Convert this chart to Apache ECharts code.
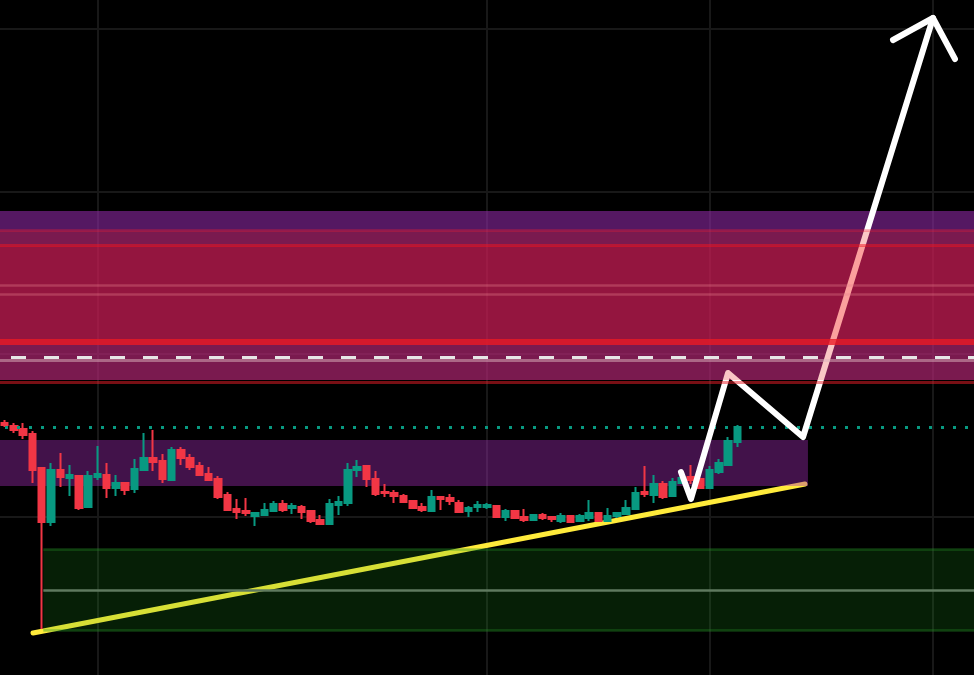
<!DOCTYPE html>
<html><head><meta charset="utf-8">
<script src="https://cdn.jsdelivr.net/npm/echarts@6/dist/echarts.min.js"></script>
<style>html,body{margin:0;padding:0;background:#000;}#c{width:974px;height:675px;}</style>
</head><body><div id="c"></div>
<script>
// 105 bar slots (80 traded bars + empty space to the right)
const categories = Array.from({length: 105}, (_, i) => 'B' + (i + 1));
// [open, close, low, high]
const candles = [
 [2.52,2.50,2.48,2.55],[2.49,2.45,2.42,2.52],[2.46,2.40,2.36,2.52],[2.41,2.05,1.92,2.44],
 [2.07,1.53,0.46,2.08],[1.53,2.05,1.49,2.12],[2.05,1.98,1.88,2.22],[1.97,2.00,1.79,2.10],
 [1.99,1.67,1.65,2.00],[1.68,1.99,1.68,2.04],[1.98,2.01,1.95,2.29],[2.00,1.87,1.77,2.12],
 [1.87,1.92,1.79,2.00],[1.92,1.85,1.80,1.92],[1.86,2.06,1.82,2.16],[2.05,2.17,2.05,2.42],
 [2.17,2.13,2.04,2.45],[2.14,1.96,1.92,2.21],[1.95,2.25,1.95,2.28],[2.25,2.17,2.10,2.28],
 [2.17,2.08,2.05,2.21],[2.09,2.00,2.00,2.13],[2.01,1.95,1.95,2.08],[1.96,1.78,1.76,1.99],
 [1.80,1.65,1.64,1.83],[1.66,1.63,1.56,1.76],[1.64,1.62,1.59,1.77],[1.59,1.62,1.49,1.62],
 [1.60,1.65,1.59,1.72],[1.64,1.71,1.63,1.74],[1.71,1.65,1.63,1.75],[1.67,1.69,1.61,1.72],
 [1.68,1.63,1.56,1.70],[1.64,1.54,1.52,1.64],[1.55,1.51,1.51,1.60],[1.51,1.71,1.51,1.76],
 [1.70,1.73,1.60,1.79],[1.72,2.05,1.69,2.12],[2.05,2.08,1.98,2.15],[2.09,1.96,1.88,2.09],
 [1.96,1.81,1.79,2.04],[1.83,1.82,1.78,1.91],[1.82,1.79,1.72,1.85],[1.79,1.73,1.72,1.81],
 [1.74,1.67,1.67,1.75],[1.68,1.65,1.63,1.72],[1.64,1.78,1.64,1.85],[1.78,1.76,1.65,1.79],
 [1.77,1.74,1.70,1.81],[1.72,1.63,1.62,1.75],[1.64,1.67,1.58,1.69],[1.68,1.70,1.63,1.74],
 [1.68,1.70,1.66,1.72],[1.69,1.58,1.58,1.69],[1.58,1.64,1.54,1.66],[1.64,1.57,1.57,1.65],
 [1.58,1.55,1.53,1.66],[1.55,1.60,1.54,1.61],[1.60,1.57,1.55,1.62],[1.58,1.56,1.53,1.58],
 [1.54,1.59,1.52,1.62],[1.59,1.53,1.53,1.59],[1.54,1.59,1.53,1.61],[1.57,1.62,1.54,1.75],
 [1.62,1.54,1.54,1.63],[1.54,1.59,1.54,1.67],[1.59,1.62,1.57,1.63],[1.61,1.67,1.60,1.75],
 [1.66,1.82,1.66,1.88],[1.83,1.81,1.78,2.09],[1.80,1.91,1.72,2.00],[1.91,1.78,1.76,1.94],
 [1.79,1.93,1.79,1.97],[1.92,1.97,1.91,2.02],[1.98,1.95,1.91,2.10],[1.96,1.87,1.87,1.96],
 [1.87,2.05,1.87,2.09],[2.03,2.12,2.01,2.16],[2.10,2.34,2.10,2.38],[2.33,2.48,2.28,2.50]
];
const gridPrices = [6.46, 4.835, 3.21, 1.585];
const gridBars = [10, 52, 76, 100];
const trendline = [[3.06, 0.42], [86.28, 1.91]];
const arrowPath = [[72.91,2.03],[73.99,1.76],[77.98,3.02],[86.07,2.38],[100.08,6.57]];
const arrowHead = [[95.77,6.35],[100.08,6.57],[102.45,6.16]];
const upperZone = [4.64, 2.95];
const resistanceZone = [4.44, 2.95];
const coreZone = [4.29, 3.35];
const coreLines = [3.895, 3.805];
const dashedLevel = 3.177;
const lightLevel = 3.145;
const zoneTopLine = 4.445;
const coreTopLine = 4.297;
const coreBottomLine = 3.335;
const zoneBottomLine = 2.927;
const dottedLevel = 2.477;
const consolidationBox = [[-0.5, 2.35], [86.6, 1.89]];
const supportBox = [[4.17, 1.255], [104.5, 0.445]];
const supportMid = 0.845;

const chart = echarts.init(document.getElementById('c'));
const hLine = (v, style) => ({yAxis: v, lineStyle: style});
const seg = (x0, x1, v, style) => [{coord: [x0, v], lineStyle: style}, {coord: [x1, v]}];
const mk = {symbol: ['none','none'], silent: true, label: {show: false}, emphasis: {disabled: true}, animation: false};

chart.setOption({
  animation: false,
  backgroundColor: '#000000',
  grid: {left: 0, right: 0, top: 0, bottom: 0},
  xAxis: [
    {type: 'category', data: categories, show: false, boundaryGap: true},
    {type: 'value', min: -0.5, max: 104.5, show: false, splitLine: {show: false}}
  ],
  yAxis: {type: 'value', min: 0, max: 6.75, show: false, splitLine: {show: false}},
  series: [
    { // grid lines
      type: 'line', xAxisIndex: 1, data: [], silent: true,
      markLine: Object.assign({}, mk, {z: 1,
        data: gridPrices.map(v => hLine(v, {color: '#181818', width: 2, type: 'solid'}))
          .concat(gridBars.map(b => ({xAxis: b, lineStyle: {color: '#181818', width: 2, type: 'solid'}})))
      })
    },
    { // yellow trendline
      type: 'line', xAxisIndex: 1, data: trendline, z: 2, symbol: 'none', silent: true,
      lineStyle: {color: '#ffeb3b', width: 5, cap: 'round', join: 'round'}
    },
    { // support box + upper purple zone
      type: 'line', xAxisIndex: 1, data: [], silent: true,
      markArea: {z: 3, silent: true, label: {show: false}, emphasis: {disabled: true},
        data: [
          [{coord: supportBox[0], itemStyle: {color: 'rgba(33,172,33,0.18)'}}, {coord: supportBox[1]}],
          [{yAxis: upperZone[0], itemStyle: {color: 'rgba(150,42,172,0.57)'}}, {yAxis: upperZone[1]}]
        ]},
      markLine: Object.assign({}, mk, {z: 3, data: [
        seg(supportBox[0][0], 104.5, supportBox[0][1], {color: 'rgba(40,150,40,0.38)', width: 2.5, type: 'solid'}),
        seg(supportBox[0][0], 104.5, supportBox[1][1], {color: 'rgba(40,150,40,0.38)', width: 2.5, type: 'solid'}),
        seg(supportBox[0][0], 104.5, supportMid, {color: '#5f7a5f', width: 2.5, type: 'solid'})
      ]})
    },
    { // consolidation box
      type: 'line', xAxisIndex: 1, data: [], silent: true,
      markArea: {z: 4, silent: true, label: {show: false}, emphasis: {disabled: true},
        data: [[{coord: consolidationBox[0], itemStyle: {color: 'rgba(165,45,185,0.4)'}}, {coord: consolidationBox[1]}]]}
    },
    { // candles
      type: 'candlestick', xAxisIndex: 0, data: candles, z: 5, barWidth: 7, silent: true,
      itemStyle: {color: '#089981', color0: '#f23645', borderColor: '#089981', borderColor0: '#f23645', borderWidth: 2}
    },
    { // dotted level
      type: 'line', xAxisIndex: 1, data: [], silent: true,
      markLine: Object.assign({}, mk, {z: 6, data: [
        hLine(dottedLevel, {color: '#089981', width: 3, type: [3, 9], dashOffset: 7, cap: 'butt'})
      ]})
    },
    { // white projection arrow
      type: 'line', xAxisIndex: 1, data: arrowPath, z: 7, symbol: 'none', silent: true,
      lineStyle: {color: '#ffffff', width: 6, cap: 'round', join: 'round'}
    },
    {
      type: 'line', xAxisIndex: 1, data: arrowHead, z: 7, symbol: 'none', silent: true,
      lineStyle: {color: '#ffffff', width: 6, cap: 'round', join: 'round'}
    },
    { // red resistance zones
      type: 'line', xAxisIndex: 1, data: [], silent: true,
      markArea: {z: 8, silent: true, label: {show: false}, emphasis: {disabled: true},
        data: [
          [{yAxis: resistanceZone[0], itemStyle: {color: 'rgba(236,32,22,0.25)'}}, {yAxis: resistanceZone[1]}],
          [{yAxis: coreZone[0], itemStyle: {color: 'rgba(253,6,0,0.2)'}}, {yAxis: coreZone[1]}]
        ]},
      markLine: Object.assign({}, mk, {z: 9, data: [
        hLine(zoneTopLine, {color: 'rgba(242,30,50,0.4)', width: 2.5, type: 'solid'}),
        hLine(coreTopLine, {color: 'rgba(242,20,30,0.5)', width: 3, type: 'solid'}),
        hLine(coreLines[0], {color: 'rgba(230,130,140,0.35)', width: 2.5, type: 'solid'}),
        hLine(coreLines[1], {color: 'rgba(230,130,140,0.35)', width: 2.5, type: 'solid'}),
        hLine(coreBottomLine, {color: 'rgba(235,25,35,0.8)', width: 6, type: 'solid'}),
        hLine(dashedLevel, {color: '#e6e6e6', width: 3, type: [15, 18], dashOffset: 22, cap: 'butt'}),
        hLine(lightLevel, {color: 'rgba(220,180,190,0.5)', width: 3, type: 'solid'}),
        hLine(zoneBottomLine, {color: 'rgba(240,30,40,0.5)', width: 3, type: 'solid'})
      ]})
    }
  ]
});
</script>
</body></html>
